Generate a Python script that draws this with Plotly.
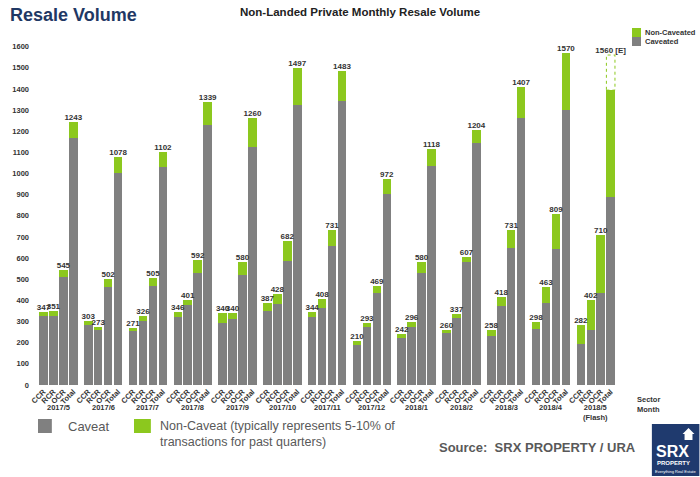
import plotly.graph_objects as go

# ---------------- data ----------------
months = ["2017/5", "2017/6", "2017/7", "2017/8", "2017/9", "2017/10", "2017/11",
          "2017/12", "2018/1", "2018/2", "2018/3", "2018/4", "2018/5"]
sectors = ["CCR", "RCR", "OCR", "Total"]

total_CCR = [347, 303, 271, 346, 340, 387, 344, 210, 242, 260, 258, 298, 282]
total_RCR = [351, 273, 326, 401, 340, 428, 408, 293, 296, 337, 418, 463, 402]
total_OCR = [545, 502, 505, 592, 580, 682, 731, 469, 580, 607, 731, 809, 710]
total_ALL = [1243, 1078, 1102, 1339, 1260, 1497, 1483, 972, 1118, 1204, 1407, 1570, 1394]

caveat_CCR = [327, 284, 253, 320, 292, 350, 320, 190, 224, 248, 232, 264, 193]
caveat_RCR = [327, 258, 303, 380, 310, 382, 366, 276, 276, 319, 374, 387, 260]
caveat_OCR = [510, 462, 470, 528, 520, 585, 655, 437, 531, 580, 648, 645, 435]
caveat_ALL = [1168, 1004, 1030, 1230, 1125, 1322, 1345, 904, 1034, 1146, 1260, 1300, 889]

flash_estimate = 1560  # 2018/5 Total estimate (dotted)

totals = [total_CCR, total_RCR, total_OCR, total_ALL]
caveats = [caveat_CCR, caveat_RCR, caveat_OCR, caveat_ALL]

# ---------------- style ----------------
GRAY = "#808080"
GREEN = "#8cc81e"
TXT = "#333333"
FONT = "Liberation Sans, Arial, sans-serif"

W, H = 700, 477
ML, MR, MT, MB = 30, 60, 36, 92
PW, PH = W - ML - MR, H - MT - MB
GROUP_STEP = 4.5
BAR_W = 0.86


def px(x):
    return (x - ML) / PW


def py(y):
    return (H - MB - y) / PH


def xpos(g, i):
    return g * GROUP_STEP + i


fig = go.Figure()

for i, s in enumerate(sectors):
    xs = [xpos(g, i) for g in range(len(months))]
    cav = caveats[i]
    non = [t - c for t, c in zip(totals[i], cav)]
    fig.add_trace(go.Bar(x=xs, y=cav, width=BAR_W, marker=dict(color=GRAY, line=dict(width=0)),
                         name="Caveated", showlegend=False, hoverinfo="skip"))
    fig.add_trace(go.Bar(x=xs, y=non, width=BAR_W, marker=dict(color=GREEN, line=dict(width=0)),
                         name="Non-Caveated", showlegend=False, hoverinfo="skip"))

# value labels
lx, ly, lt = [], [], []
for i in range(4):
    for g in range(len(months)):
        lx.append(xpos(g, i))
        if i == 3 and g == len(months) - 1:
            ly.append(flash_estimate)
            lt.append(f"{flash_estimate} [E]")
        else:
            ly.append(totals[i][g])
            lt.append(str(totals[i][g]))
fig.add_trace(go.Scatter(x=lx, y=ly, mode="text", text=lt, textposition="top center",
                         textfont=dict(family=FONT, size=8, color=TXT, weight="bold"),
                         showlegend=False, hoverinfo="skip", cliponaxis=False))

shapes = []
# dotted estimate box
gl = len(months) - 1
shapes.append(dict(type="rect", xref="x", yref="y",
                   x0=xpos(gl, 3) - BAR_W / 2, x1=xpos(gl, 3) + BAR_W / 2,
                   y0=total_ALL[gl], y1=flash_estimate,
                   line=dict(color=GREEN, width=1, dash="dot"), fillcolor="rgba(0,0,0,0)"))

annotations = []
# month labels
for g, m in enumerate(months):
    txt = m if g < len(months) - 1 else m + "<br>(Flash)"
    annotations.append(dict(x=xpos(g, 1.5), xref="x", y=py(401), yref="paper", text=txt,
                            showarrow=False, xanchor="center", yanchor="top",
                            font=dict(family=FONT, size=7.5, color=TXT, weight="bold")))
annotations.append(dict(x=px(635), xref="paper", y=py(393), yref="paper", text="Sector<br>Month",
                        showarrow=False, xanchor="left", yanchor="top", align="left",
                        font=dict(family=FONT, size=7.5, color=TXT, weight="bold")))

# titles
annotations.append(dict(x=px(2), xref="paper", y=py(15), yref="paper", text="Resale Volume",
                        showarrow=False, xanchor="left", yanchor="middle",
                        font=dict(family=FONT, size=18, color="#1f3864", weight="bold")))
annotations.append(dict(x=px(357), xref="paper", y=py(12), yref="paper",
                        text="Non-Landed Private Monthly Resale Volume",
                        showarrow=False, xanchor="center", yanchor="middle",
                        font=dict(family=FONT, size=11.5, color="#222222", weight="bold")))

# top-right legend (swatches as fixed-size annotation boxes)
for ycen, col, label in [(32.5, GREEN, "Non-Caveated"), (41.5, GRAY, "Caveated")]:
    annotations.append(dict(x=px(632), xref="paper", y=py(ycen), yref="paper", text=" ",
                            showarrow=False, xanchor="left", yanchor="middle",
                            width=9, height=9, bgcolor=col, borderpad=0, borderwidth=0,
                            font=dict(size=1)))
    annotations.append(dict(x=px(643), xref="paper", y=py(ycen), yref="paper", text=label,
                            showarrow=False, xanchor="left", yanchor="middle",
                            font=dict(family=FONT, size=7.5, color=TXT, weight="bold")))

# bottom legend
shapes.append(dict(type="rect", xref="paper", yref="paper", x0=px(32), x1=px(46),
                   y0=py(433), y1=py(419), fillcolor=GRAY, line=dict(width=0)))
shapes.append(dict(type="rect", xref="paper", yref="paper", x0=px(129), x1=px(146),
                   y0=py(433), y1=py(419), fillcolor=GREEN, line=dict(width=0)))
annotations.append(dict(x=px(60), xref="paper", y=py(426), yref="paper", text="Caveat",
                        showarrow=False, xanchor="left", yanchor="middle",
                        font=dict(family=FONT, size=13, color="#595959")))
annotations.append(dict(x=px(153), xref="paper", y=py(417), yref="paper",
                        text="Non-Caveat (typically represents 5-10% of<br>transactions for past quarters)",
                        showarrow=False, xanchor="left", yanchor="top", align="left",
                        font=dict(family=FONT, size=12.5, color="#595959")))
annotations.append(dict(x=px(435), xref="paper", y=py(447), yref="paper",
                        text="Source:  SRX PROPERTY / URA",
                        showarrow=False, xanchor="left", yanchor="middle",
                        font=dict(family=FONT, size=13, color="#595959", weight="bold")))

# SRX logo
NAVY = "#1f3a6e"
shapes.append(dict(type="rect", xref="paper", yref="paper", x0=px(652), x1=px(700),
                   y0=py(476), y1=py(424), fillcolor=NAVY, line=dict(width=0)))
# house icon
hx, hy = 689, 428
house = (f"M {px(hx - 6)} {py(hy + 6)} L {px(hx)} {py(hy)} L {px(hx + 6)} {py(hy + 6)} "
         f"L {px(hx + 4)} {py(hy + 6)} L {px(hx + 4)} {py(hy + 12)} L {px(hx - 4)} {py(hy + 12)} "
         f"L {px(hx - 4)} {py(hy + 6)} Z")
shapes.append(dict(type="path", xref="paper", yref="paper", path=house,
                   fillcolor="white", line=dict(width=0)))
annotations.append(dict(x=px(654), xref="paper", y=py(451), yref="paper", text="SRX",
                        showarrow=False, xanchor="left", yanchor="middle",
                        font=dict(family=FONT, size=16, color="white", weight="bold")))
annotations.append(dict(x=px(655), xref="paper", y=py(463), yref="paper", text="PROPERTY",
                        showarrow=False, xanchor="left", yanchor="middle",
                        font=dict(family=FONT, size=6, color="white", weight="bold")))
annotations.append(dict(x=px(676), xref="paper", y=py(471.5), yref="paper", text="Everything Real Estate",
                        showarrow=False, xanchor="center", yanchor="middle",
                        font=dict(family=FONT, size=4, color="white")))

fig.update_layout(
    width=W, height=H,
    margin=dict(l=ML, r=MR, t=MT, b=MB, pad=0),
    paper_bgcolor="white", plot_bgcolor="white",
    barmode="stack", bargap=0,
    showlegend=False,
    annotations=annotations,
    shapes=shapes,
    xaxis=dict(
        range=[-0.75, -0.75 + PW / 10.05],
        tickvals=[xpos(g, i) for g in range(len(months)) for i in range(4)],
        ticktext=[sectors[i] for g in range(len(months)) for i in range(4)],
        tickangle=-45, ticks="", showgrid=False, zeroline=False, showline=False,
        tickfont=dict(family=FONT, size=7.5, color=TXT, weight="bold"),
        fixedrange=True,
    ),
    yaxis=dict(
        range=[0, 1650],
        tickvals=list(range(0, 1700, 100)),
        ticks="", showgrid=False, zeroline=False, showline=False,
        ticklabelstandoff=6,
        tickfont=dict(family=FONT, size=7.5, color=TXT, weight="bold"),
        fixedrange=True,
    ),
)

fig.write_html("out.html")
